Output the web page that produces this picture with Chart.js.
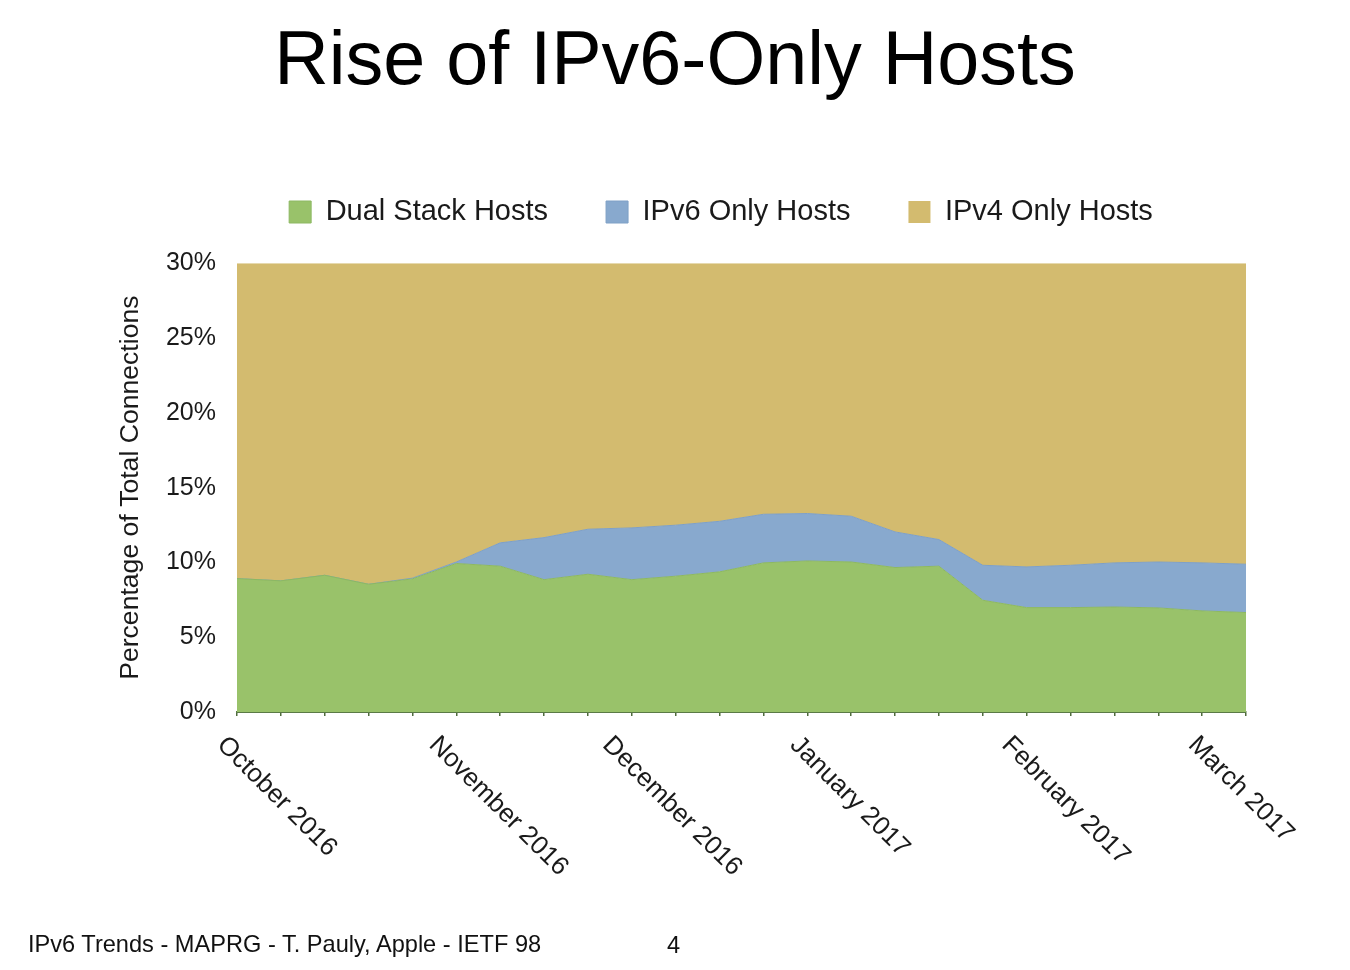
<!DOCTYPE html>
<html>
<head>
<meta charset="utf-8">
<script src="https://cdn.jsdelivr.net/npm/chart.js@4.4.1/dist/chart.umd.min.js"></script>
<style>
  html, body { margin: 0; padding: 0; background: #ffffff; }
  body { width: 1350px; height: 970px; position: relative; overflow: hidden;
         font-family: "Liberation Sans", Arial, sans-serif; }
  #title { position: absolute; left: 0; top: 21px; width: 1350px; text-align: center;
           font-size: 75.5px; line-height: 75px; color: #000; white-space: nowrap; }
  #footer { position: absolute; left: 28px; top: 933px; font-size: 23.6px; line-height: 23px;
            color: #111; white-space: nowrap; }
  #page { position: absolute; left: 667px; top: 934px; font-size: 23.6px; line-height: 23px; color: #111; }
  #chart { position: absolute; left: 0; top: 0; }
</style>
</head>
<body>
<canvas id="chart" width="1350" height="970"></canvas>
<div id="title">Rise of IPv6-Only Hosts</div>
<div id="footer">IPv6 Trends - MAPRG - T. Pauly, Apple - IETF 98</div>
<div id="page">4</div>
<script>
// ---- data ----
const weekLabels = ['Week 1','Week 2','Week 3','Week 4','Week 5','Week 6','Week 7','Week 8',
  'Week 9','Week 10','Week 11','Week 12','Week 13','Week 14','Week 15','Week 16',
  'Week 17','Week 18','Week 19','Week 20','Week 21','Week 22','Week 23','Week 24'];
const dualStack = [8.92, 8.77, 9.14, 8.54, 8.90, 9.93, 9.75, 8.85, 9.21, 8.85, 9.08, 9.37,
  9.97, 10.10, 10.03, 9.66, 9.75, 7.47, 6.98, 6.98, 7.02, 6.96, 6.76, 6.65];
const ipv6Only = [0, 0, 0, 0, 0.05, 0.10, 1.56, 2.81, 3.01, 3.46, 3.41, 3.38,
  3.25, 3.17, 3.06, 2.38, 1.78, 2.34, 2.72, 2.83, 2.95, 3.07, 3.21, 3.23];
const ipv4Only = [91.08, 91.23, 90.86, 91.46, 91.05, 89.97, 88.69, 88.34, 87.78, 87.69, 87.51, 87.25,
  86.78, 86.73, 86.91, 87.96, 88.47, 90.19, 90.30, 90.19, 90.03, 89.97, 90.03, 90.12];
const seriesNames = ['Dual Stack Hosts', 'IPv6 Only Hosts', 'IPv4 Only Hosts'];
const monthLabels = ['October 2016', 'November 2016', 'December 2016', 'January 2017', 'February 2017', 'March 2017'];
const monthPositions = [0, 4.83, 8.79, 13.06, 17.89, 22.14];
const yTickValues = [0, 5, 10, 15, 20, 25, 30];

Chart.defaults.font.family = '"Liberation Sans", Arial, sans-serif';
Chart.defaults.color = '#1a1a1a';

const monthLabelPlugin = {
  id: 'monthLabels',
  afterDraw(chart) {
    const xs = chart.scales.x;
    const ctx = chart.ctx;
    ctx.save();
    ctx.font = '26px "Liberation Sans", Arial, sans-serif';
    ctx.fillStyle = '#1a1a1a';
    ctx.textAlign = 'left';
    ctx.textBaseline = 'alphabetic';
    monthLabels.forEach((lab, i) => {
      const px = xs.getPixelForValue(monthPositions[i]) - 21;
      const py = xs.bottom + 30;
      ctx.save();
      ctx.translate(px, py);
      ctx.rotate(Math.PI / 4);
      ctx.fillText(lab, 0, 0);
      ctx.restore();
    });
    ctx.restore();
  }
};

new Chart(document.getElementById('chart'), {
  type: 'line',
  data: {
    labels: weekLabels,
    datasets: [
      { label: seriesNames[0], data: dualStack, fill: 'origin',
        backgroundColor: '#99C26A', borderColor: '#8DB862', borderWidth: 1 },
      { label: seriesNames[1], data: ipv6Only, fill: '-1',
        backgroundColor: '#88A9CE', borderColor: '#7FA0C6', borderWidth: 1 },
      { label: seriesNames[2], data: ipv4Only, fill: '-1',
        backgroundColor: '#D3BB6F', borderColor: '#D3BB6F', borderWidth: 0 }
    ]
  },
  options: {
    responsive: false,
    animation: false,
    devicePixelRatio: 1,
    elements: { point: { radius: 0, hoverRadius: 0 }, line: { tension: 0 } },
    layout: { padding: { left: 92, right: 0, top: 139.5, bottom: 254 } },
    plugins: {
      tooltip: { enabled: false },
      title: { display: false },
      subtitle: { display: true, text: '', weight: 500, font: { size: 10, lineHeight: 1 },
                  padding: { top: 16.8, bottom: 0 } },
      legend: {
        position: 'top',
        align: 'center',
        labels: { boxWidth: 22, boxHeight: 22, padding: 58, color: '#1a1a1a',
                  font: { size: 29, lineHeight: 1 } }
      }
    },
    scales: {
      x: {
        type: 'category',
        offset: false,
        z: 1,
        grid: { display: true, drawOnChartArea: false, drawTicks: true, tickLength: 4,
                color: '#4F6B3D', lineWidth: 1.5 },
        border: { display: true, color: '#5A7A46', width: 2 },
        ticks: { display: false, autoSkip: false }
      },
      y: {
        stacked: true,
        min: 0, max: 30,
        z: 1,
        afterBuildTicks: (s) => { s.ticks = yTickValues.map(v => ({ value: v })); },
        afterFit: (s) => { s.width = 145; },
        grid: { drawTicks: false, lineWidth: 2,
                color: (c) => (c.tick && (c.tick.value === 0 || c.tick.value === 30)) ? 'rgba(0,0,0,0)' : 'rgba(60,50,10,0.1)' },
        border: { display: false },
        ticks: { padding: 21, color: '#1a1a1a', font: { size: 25 },
                 callback: (v) => v + '%' },
        title: { display: true, text: 'Percentage of Total Connections', color: '#1a1a1a',
                 font: { size: 26.6, lineHeight: 1.2 }, padding: { top: 23, bottom: 0 } }
      },
      yPad: {
        type: 'linear',
        position: 'right',
        display: true,
        afterFit: (s) => { s.width = 104; },
        grid: { display: false },
        border: { display: false },
        ticks: { display: false }
      }
    }
  },
  plugins: [monthLabelPlugin]
});
</script>
</body>
</html>
